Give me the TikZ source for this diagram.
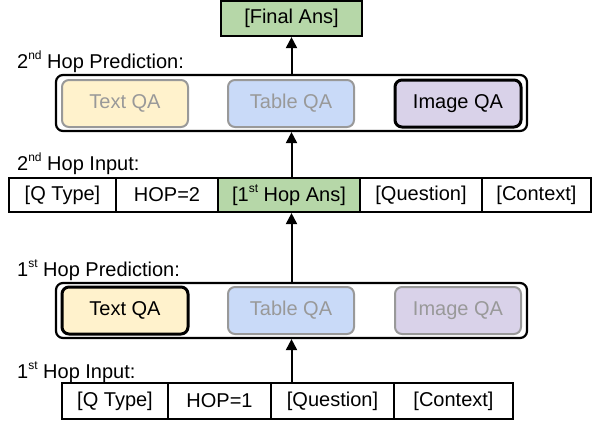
\documentclass[tikz,border=0pt]{standalone}
\usepackage{fontspec}
\setmainfont{Liberation Sans}
\usetikzlibrary{arrows.meta}
\definecolor{ansgreen}{HTML}{B6D7A8}
\definecolor{txtyellow}{HTML}{FFF2CC}
\definecolor{tabblue}{HTML}{C9DAF8}
\definecolor{imgpurple}{HTML}{D9D2E9}
\definecolor{fadegray}{HTML}{999999}
\tikzset{
  cell/.style={draw=black, line width=2.2pt, inner sep=0pt, font=\fontsize{20}{24}\selectfont},
  outerbox/.style={draw=black, line width=2.2pt, rounded corners=7pt, inner sep=0pt},
  qafade/.style={draw=fadegray, line width=2pt, rounded corners=7pt, inner sep=0pt, text=fadegray, font=\fontsize{20}{24}\selectfont},
  qaon/.style={draw=black, line width=3pt, rounded corners=7pt, inner sep=0pt, text=black, font=\fontsize{20}{24}\selectfont},
  lab/.style={anchor=base west, inner sep=0pt, font=\fontsize{20}{24}\selectfont},
  arr/.style={line width=2pt, -{Triangle[width=11pt,length=11pt]}}
}
\newcommand{\sups}[1]{\raisebox{0.45em}{\fontsize{12}{14}\selectfont #1}}
\newcommand{\cellat}[7]{% name, x1, x2, y1, y2, style, text
  \node[#6, minimum width=#3pt-#2pt, minimum height=#5pt-#4pt] (#1) at ({(#2+#3)/2}, {(#4+#5)/2}) {#7};}
\begin{document}
\begin{tikzpicture}[x=1pt, y=-1pt]
\useasboundingbox (0,0) rectangle (594,426);
% final answer
\cellat{final}{221}{362}{1}{36}{cell, fill=ansgreen}{[Final Ans]}
% 2nd hop prediction
\node[lab] (lp2) at (17,68) {2\sups{nd} Hop Prediction:};
\cellat{outer2}{56}{527}{75}{131}{outerbox}{}
\cellat{text2}{62}{188}{80}{127}{qafade, fill=txtyellow}{Text QA}
\cellat{table2}{228}{354}{80}{127}{qafade, fill=tabblue}{Table QA}
\cellat{image2}{395}{521}{80}{127}{qaon, fill=imgpurple}{Image QA}
% 2nd hop input
\node[lab] (li2) at (17,170) {2\sups{nd} Hop Input:};
\cellat{qt2}{9}{116}{178}{212}{cell}{[Q Type]}
\cellat{hop2}{116}{218}{178}{212}{cell}{HOP=2}
\cellat{ans2}{218}{360}{178}{212}{cell, fill=ansgreen}{[1\sups{st} Hop Ans]}
\cellat{q2}{360}{482}{178}{212}{cell}{[Question]}
\cellat{c2}{482}{591}{178}{212}{cell}{[Context]}
% 1st hop prediction
\node[lab] (lp1) at (17,276) {1\sups{st} Hop Prediction:};
\cellat{outer1}{56}{527}{283}{338}{outerbox}{}
\cellat{text1}{62}{188}{287}{334}{qaon, fill=txtyellow}{Text QA}
\cellat{table1}{228}{354}{287}{334}{qafade, fill=tabblue}{Table QA}
\cellat{image1}{395}{521}{287}{334}{qafade, fill=imgpurple}{Image QA}
% 1st hop input
\node[lab] (li1) at (17,378) {1\sups{st} Hop Input:};
\cellat{qt1}{62}{168}{383}{419}{cell}{[Q Type]}
\cellat{hop1}{168}{271}{383}{419}{cell}{HOP=1}
\cellat{q1}{271}{394}{383}{419}{cell}{[Question]}
\cellat{c1}{394}{513}{383}{419}{cell}{[Context]}
% arrows
\draw[arr] (final.south |- q1.north) -- (final.south |- outer1.south);
\draw[arr] (final.south |- outer1.north) -- (final.south |- ans2.south);
\draw[arr] (final.south |- ans2.north) -- (final.south |- outer2.south);
\draw[arr] (final.south |- outer2.north) -- (final.south);
\end{tikzpicture}
\end{document}
